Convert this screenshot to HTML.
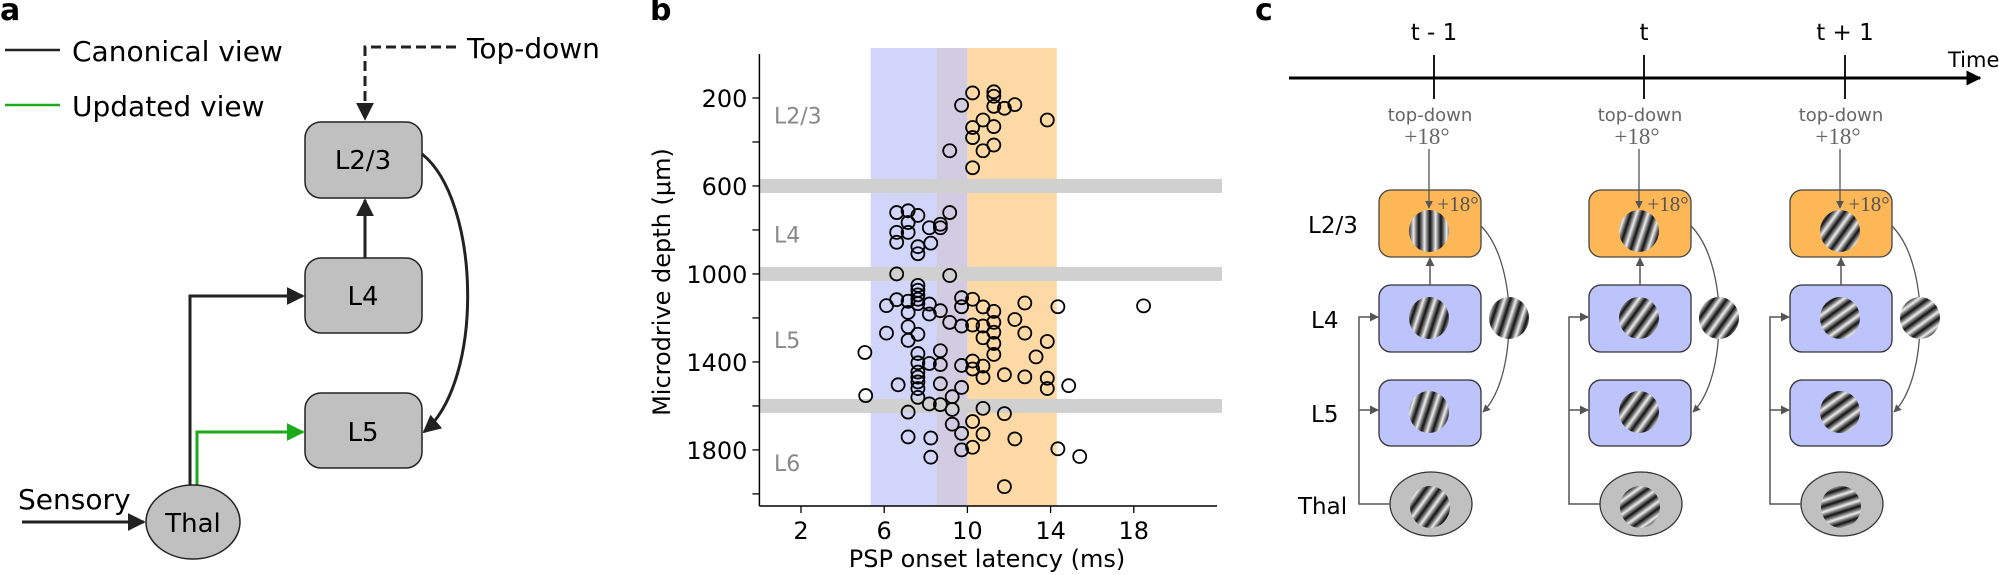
<!DOCTYPE html>
<html><head><meta charset="utf-8"><style>
html,body{margin:0;padding:0;background:#fff;}
svg{display:block;font-family:"DejaVu Sans","Liberation Sans",sans-serif;}
</style></head><body>
<svg id="fig" width="1999" height="575" viewBox="0 0 1999 575" xmlns="http://www.w3.org/2000/svg">
<defs>
<marker id="ah" viewBox="0 0 10 10" refX="9" refY="5" markerWidth="6" markerHeight="6" orient="auto"><path d="M0,0 L10,5 L0,10 z" fill="#222"/></marker>
<marker id="ahg" viewBox="0 0 10 10" refX="9" refY="5" markerWidth="6" markerHeight="6" orient="auto"><path d="M0,0 L10,5 L0,10 z" fill="#1aaa1a"/></marker>
<marker id="ahs" viewBox="0 0 10 10" refX="9" refY="5" markerWidth="6" markerHeight="6" orient="auto"><path d="M0,0 L10,5 L0,10 z" fill="#555"/></marker>
<marker id="aht" viewBox="0 0 10 10" refX="9" refY="5" markerWidth="5" markerHeight="5" orient="auto"><path d="M0,0 L10,5 L0,10 z" fill="#000"/></marker>
</defs>

<!-- Panel a -->
<g>
<text x="0" y="20" font-size="30" font-weight="bold">a</text>
<line x1="5" y1="50" x2="60" y2="50" stroke="#222" stroke-width="2.5"/>
<text x="72" y="61" font-size="28">Canonical view</text>
<line x1="5" y1="105" x2="60" y2="105" stroke="#1aaa1a" stroke-width="2.5"/>
<text x="72" y="116" font-size="28">Updated view</text>
<path d="M456,47 L365,47 L365,119" fill="none" stroke="#222" stroke-width="3" stroke-dasharray="10,5" marker-end="url(#ah)"/>
<text x="467" y="58" font-size="28">Top-down</text>
<rect x="305" y="122" width="117" height="76" rx="16" fill="#c0c0c0" stroke="#222" stroke-width="1.5"/>
<text x="363" y="169" font-size="26" text-anchor="middle">L2/3</text>
<rect x="305" y="258" width="117" height="75" rx="16" fill="#c0c0c0" stroke="#222" stroke-width="1.5"/>
<text x="363" y="305" font-size="26" text-anchor="middle">L4</text>
<rect x="305" y="393" width="117" height="75" rx="16" fill="#c0c0c0" stroke="#222" stroke-width="1.5"/>
<text x="363" y="441" font-size="26" text-anchor="middle">L5</text>
<line x1="365" y1="258" x2="365" y2="200" stroke="#222" stroke-width="3" marker-end="url(#ah)"/>
<path d="M422,154 C480,200 485,380 424,432" fill="none" stroke="#222" stroke-width="3" marker-end="url(#ah)"/>
<path d="M190,485 L190,296 L303,296" fill="none" stroke="#222" stroke-width="3" marker-end="url(#ah)"/>
<path d="M197,485 L197,432 L303,432" fill="none" stroke="#1aaa1a" stroke-width="3" marker-end="url(#ahg)"/>
<ellipse cx="193" cy="522" rx="47" ry="37" fill="#c0c0c0" stroke="#222" stroke-width="1.5"/>
<text x="193" y="532" font-size="26" text-anchor="middle">Thal</text>
<line x1="22" y1="522" x2="144" y2="522" stroke="#222" stroke-width="3" marker-end="url(#ah)"/>
<text x="18" y="509" font-size="28">Sensory</text>
</g>

<!-- Panel b -->
<g id="panelb">
<text x="650" y="20" font-size="30" font-weight="bold">b</text>
</g>

<!-- Panel c -->
<g id="panelc">
<text x="1255" y="20" font-size="30" font-weight="bold">c</text>
<line x1="1289" y1="78" x2="1980" y2="78" stroke="#000" stroke-width="3" marker-end="url(#aht)"/>
<text x="1948" y="67" font-size="21">Time</text>
</g>
</svg>
<script>
// ---- Panel b data ----
const latency = [10.25,11.27,11.27,9.72,11.27,11.78,12.28,10.75,13.84,10.25,11.27,10.25,11.27,10.75,9.15,10.25,
6.6,7.15,7.62,9.15,7.15,8.17,8.7,8.7,6.6,7.15,6.6,8.24,7.62,7.62,
6.6,9.15,
7.62,7.62,7.62,7.62,7.62,6.6,7.15,6.11,8.17,8.7,9.72,10.25,10.75,11.27,12.76,14.35,18.47,7.15,8.17,9.72,9.15,9.72,10.25,10.75,11.27,12.28,
7.15,6.11,7.62,10.75,11.27,12.76,11.27,13.84,7.15,5.07,7.62,8.7,11.27,13.3,7.62,8.17,8.7,9.72,10.25,10.75,10.25,
7.62,7.62,10.75,11.78,12.76,13.84,13.84,14.87,7.62,6.67,8.7,9.72,7.62,7.62,5.11,9.27,8.17,8.7,9.27,10.75,7.15,11.78,
9.27,10.25,9.72,10.75,7.15,8.24,12.28,9.72,10.25,14.35,8.24,15.4,11.78];
const depth = [177,172,192,233,238,247,230,300,300,334,330,380,414,440,440,517,
721,713,734,721,766,790,774,790,811,811,856,860,876,908,
1000,1007,
1052,1074,1095,1115,1135,1117,1124,1144,1137,1167,1108,1115,1150,1170,1132,1149,1145,1175,1182,1149,1220,1237,1232,1237,1220,1207,
1240,1269,1274,1290,1265,1269,1316,1307,1302,1357,1362,1349,1366,1377,1404,1407,1412,1416,1396,1419,1432,
1446,1469,1471,1458,1468,1474,1521,1508,1491,1504,1499,1516,1521,1561,1553,1558,1591,1594,1616,1611,1628,1635,
1683,1671,1725,1728,1741,1746,1750,1800,1788,1795,1833,1830,1967];
const xTicks = [2,6,10,14,18];
const yTicks = [200,600,1000,1400,1800];
const yMinorTicks = [400,800,1200,1600,2000];
const layerNames = ["L2/3","L4","L5","L6"];
const layerLabelDepth = [280,820,1300,1860];
const boundaryDepths = [600,1000,1600];
const bandLatency = [5.35,8.5,10.0,14.3];
const xDomain = [0,22];
const yDomain = [0,2055];

const NS="http://www.w3.org/2000/svg";
const X0=759.4,X1=1217,Y0=54,Y1=506;
function xs(v){return X0+(v-xDomain[0])/(xDomain[1]-xDomain[0])*(X1-X0);}
function ys(v){return Y0+(v-yDomain[0])/(yDomain[1]-yDomain[0])*(Y1-Y0);}
function mk(tag,attrs,parent){const e=document.createElementNS(NS,tag);for(const k in attrs)e.setAttribute(k,attrs[k]);parent.appendChild(e);return e;}
const pb=document.getElementById('panelb');

let e;
e=mk('rect',{x:xs(bandLatency[0]),y:48,width:xs(bandLatency[1])-xs(bandLatency[0]),height:Y1-48,fill:'#d0d5f9'},pb);


e=mk('rect',{x:xs(bandLatency[1]),y:48,width:xs(bandLatency[2])-xs(bandLatency[1]),height:Y1-48,fill:'#d1cce2'},pb);


e=mk('rect',{x:xs(bandLatency[2]),y:48,width:xs(bandLatency[3])-xs(bandLatency[2]),height:Y1-48,fill:'#fddaa5'},pb);


boundaryDepths.forEach(d=>{
  const r=mk('rect',{x:X0,y:ys(d)-7,width:1222-X0,height:14,fill:'#d0d0d0'},pb);
  
  
});
layerNames.forEach((n,i)=>{
  const t=mk('text',{x:774,y:ys(layerLabelDepth[i])+8,'font-size':22,fill:'#888'},pb);
  t.textContent=n;
  
  
});
latency.forEach((l,i)=>{
  const c=mk('circle',{cx:xs(l),cy:ys(depth[i]),r:6.5,fill:'none',stroke:'#000','stroke-width':1.8},pb);
  
  
});
e=mk('line',{x1:X0,y1:Y0,x2:X0,y2:Y1,stroke:'#000','stroke-width':1.5},pb);


e=mk('line',{x1:X0,y1:Y1,x2:X1,y2:Y1,stroke:'#000','stroke-width':1.5},pb);


xTicks.forEach(v=>{
  mk('line',{x1:xs(v),y1:Y1,x2:xs(v),y2:Y1+7,stroke:'#000','stroke-width':1.3},pb);
  const t=mk('text',{x:xs(v),y:Y1+33,'font-size':24,'text-anchor':'middle'},pb);
  t.textContent=v;
  
  
});
yTicks.forEach(v=>{
  mk('line',{x1:X0-7,y1:ys(v),x2:X0,y2:ys(v),stroke:'#000','stroke-width':1.3},pb);
  const t=mk('text',{x:X0-12,y:ys(v)+9,'font-size':24,'text-anchor':'end'},pb);
  t.textContent=v;
  
  
});
yMinorTicks.forEach(v=>{
  mk('line',{x1:X0-7,y1:ys(v),x2:X0,y2:ys(v),stroke:'#000','stroke-width':1.3},pb);
});
e=mk('text',{x:987,y:567,'font-size':24,'text-anchor':'middle'},pb);
e.textContent='PSP onset latency (ms)';


e=mk('text',{x:0,y:0,'font-size':24,'text-anchor':'middle',transform:'translate(670,282) rotate(-90)'},pb);
e.textContent='Microdrive depth (\u03bcm)';



// ---- Panel c ----
const svg=document.getElementById('fig');
const defs=svg.querySelector('defs');
const angles=[0,18,36,54,72];
angles.forEach(a=>{
  const g=mk('linearGradient',{id:'gr'+a,gradientUnits:'userSpaceOnUse',x1:0,y1:0,x2:11,y2:0,spreadMethod:'repeat',gradientTransform:'rotate('+a+')'},defs);
  mk('stop',{offset:'0','stop-color':'#111'},g);
  mk('stop',{offset:'0.25','stop-color':'#777'},g);
  mk('stop',{offset:'0.5','stop-color':'#eee'},g);
  mk('stop',{offset:'0.75','stop-color':'#777'},g);
  mk('stop',{offset:'1','stop-color':'#111'},g);
});
const pc=document.getElementById('panelc');
const colCenters=[1430,1640,1841];
const colTicks=["t - 1","t","t + 1"];
const l23Ang=[0,18,36], midAng=[18,36,54], thalAng=[36,54,72];
function grating(cx,cy,a,name){
  const el=mk('ellipse',{cx:cx,cy:cy,rx:20,ry:21,fill:'url(#gr'+a+')'},pc);
  
  
}
colCenters.forEach((cx,i)=>{
  mk('line',{x1:cx+4,y1:55,x2:cx+4,y2:99,stroke:'#000','stroke-width':1.8},pc);
  let t=mk('text',{x:cx+4,y:40,'font-size':23,'text-anchor':'middle'},pc);
  t.textContent=colTicks[i];
  
  
  t=mk('text',{x:cx,y:121,'font-size':18,'text-anchor':'middle',fill:'#666'},pc);
  t.textContent='top-down';
  
  
  t=mk('text',{x:cx-3,y:144,'font-size':23,'text-anchor':'middle',fill:'#666','font-family':'Liberation Serif, serif'},pc);
  t.textContent='+18\u00b0';
  
  
  let r=mk('rect',{x:cx-51,y:190,width:102,height:67,rx:12,fill:'#fdb756',stroke:'#444','stroke-width':1.3},pc);
  
  
  r=mk('rect',{x:cx-51,y:285,width:102,height:67,rx:12,fill:'#bcc4fb',stroke:'#333','stroke-width':1.3},pc);
  
  
  r=mk('rect',{x:cx-51,y:380,width:102,height:66,rx:12,fill:'#bcc4fb',stroke:'#333','stroke-width':1.3},pc);
  
  
  r=mk('ellipse',{cx:cx+1,cy:504,rx:41,ry:32,fill:'#c0c0c0',stroke:'#333','stroke-width':1.3},pc);
  
  
  mk('line',{x1:cx-1,y1:149,x2:cx-1,y2:208,stroke:'#555','stroke-width':1.3,'marker-end':'url(#ahs)'},pc);
  mk('line',{x1:cx,y1:285,x2:cx,y2:258,stroke:'#555','stroke-width':1.5,'marker-end':'url(#ahs)'},pc);
  mk('path',{d:'M'+(cx+51)+',226 C'+(cx+75)+',250 '+(cx+80)+',300 '+(cx+79)+',320 C'+(cx+79)+',360 '+(cx+70)+',395 '+(cx+53)+',412',fill:'none',stroke:'#555','stroke-width':1.3,'marker-end':'url(#ahs)'},pc);
  mk('path',{d:'M'+(cx-40)+',504 L'+(cx-71)+',504 L'+(cx-71)+',317 L'+(cx-52)+',317',fill:'none',stroke:'#555','stroke-width':1.5,'marker-end':'url(#ahs)'},pc);
  mk('path',{d:'M'+(cx-71)+',410 L'+(cx-52)+',410',fill:'none',stroke:'#555','stroke-width':1.5,'marker-end':'url(#ahs)'},pc);
  grating(cx-1,231,l23Ang[i],'grating-l23');
  grating(cx-1,318,midAng[i],'grating-l4');
  grating(cx-1,412,midAng[i],'grating-l5');
  grating(cx+79,318,midAng[i],'grating-feedback');
  grating(cx,507,thalAng[i],'grating-thal');
  t=mk('text',{x:cx+28,y:211,'font-size':21,'text-anchor':'middle',fill:'#555','font-family':'Liberation Serif, serif'},pc);
  t.textContent='+18\u00b0';
  
  
});
[["L2/3",1308,233],["L4",1311,328],["L5",1311,422],["Thal",1298,514]].forEach(([s,x,y])=>{
  const t=mk('text',{x:x,y:y,'font-size':23},pc);
  t.textContent=s;
  
  
});
</script>
</body></html>
